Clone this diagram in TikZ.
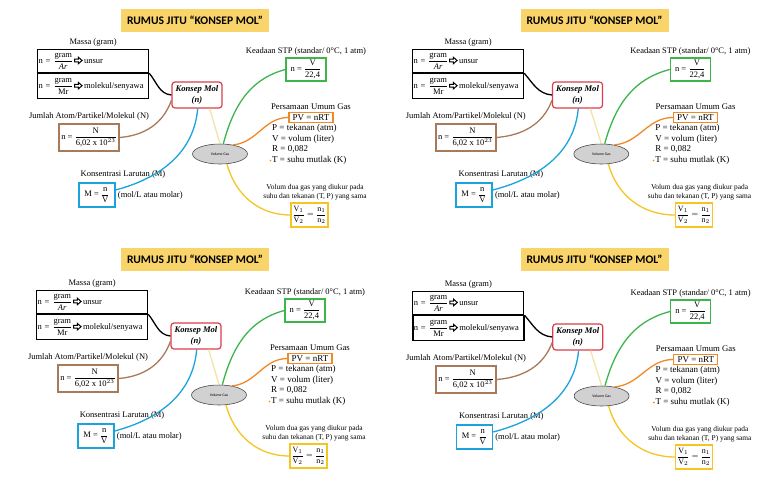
\documentclass[tikz,border=0pt]{standalone}
\usepackage{amsmath}
\usepackage{fontspec}
\setmainfont{Liberation Serif}
\newfontfamily\judulfont{Carlito}
\usetikzlibrary{positioning,shapes.geometric}
\definecolor{judulkuning}{HTML}{F9D46A}
\definecolor{merah}{HTML}{DC3C4B}
\definecolor{coklat}{HTML}{A87A5A}
\definecolor{biru}{HTML}{1BA3DC}
\definecolor{hijau}{HTML}{3DB54A}
\definecolor{oranye}{HTML}{F08A24}
\definecolor{kuning}{HTML}{F5C623}
\definecolor{krem}{HTML}{F1E4A8}
\newcommand{\pnh}{\hspace{1pt}\tikz[baseline=-2.6pt, x=1pt, y=1pt]\draw[line width=1pt, line join=miter] (0,-1.4) -- (3.6,-1.4) -- (3.6,-3.3) -- (7.4,0) -- (3.6,3.3) -- (3.6,1.4) -- (0,1.4) -- cycle;\hspace{1.5pt}}
\newcommand{\tx}[1]{\text{#1}}

\begin{document}
\begin{tikzpicture}[x=1pt, y=-1pt, node distance=1pt, every node/.style={font=\fontsize{8.5}{10}\selectfont, inner sep=1pt}]
\tikzstyle{judul}=[fill=judulkuning, minimum width=148, minimum height=23, font=\judulfont\bfseries\fontsize{11.6}{13}\selectfont]
\tikzstyle{kotak}=[draw, line width=1.3pt, align=center, inner sep=1pt]
\tikzstyle{baris}=[draw, line width=1.2pt, text width=109, align=left, minimum height=23, anchor=north west]
\tikzstyle{garis}=[line width=1.3pt]
\useasboundingbox[fill=white] (0,0) rectangle (768,488);
\foreach \dx/\dy/\sk/\jx/\jy/\id in {0/0/1/195/20/a, 373.7/0/1.0346/594.5/20/b, -1/241/1/195/259/c, 374/242/1.0346/594.5/259/d} {
\node[judul] (judul\id) at (\jx,\jy) {RUMUS JITU “KONSEP MOL”};
\begin{scope}[shift={(\dx,\dy)}, xscale=\sk]
\node[baris] (massar\id) at (37,49) {\mbox{n = $\dfrac{\tx{gram}}{\tx{\textit{Ar}}}$\pnh unsur}};
\node[baris, below=0pt of massar\id, minimum height=25] (massmr\id) {\mbox{n = $\dfrac{\tx{gram}}{\tx{Mr}}$\pnh molekul/senyawa}};
\node[above=1pt of massar\id] (lmassa\id) {Massa (gram)};
\node[kotak, draw=merah, rounded corners=3pt, line width=1.2pt, minimum width=50, minimum height=26, font=\bfseries\itshape\fontsize{8.6}{11}\selectfont] (mol\id) at (197,95) {Konsep Mol\\(n)};
\node[kotak, draw=coklat, line width=1.6pt, minimum width=60, minimum height=27] (jml\id) at (89,137.5) {n = $\dfrac{\tx{N}}{\tx{6,02 x 10}^{23}}$};
\node[above=2pt of jml\id] (ljml\id) {Jumlah Atom/Partikel/Molekul (N)};
\node[kotak, draw=biru, line width=1.5pt, minimum width=36, minimum height=24] (mkon\id) at (97,195) {M = $\dfrac{\tx{n}}{\tx{V}}$};
\node[right=1pt of mkon\id] (satuan\id) {(mol/L atau molar)};
\node (lmkon\id) at (123,174) {Konsentrasi Larutan (M)};
\node[ellipse, draw=black!70, fill=black!18, line width=0.6pt, minimum width=55, minimum height=20, font=\judulfont\fontsize{3.8}{4}\selectfont] (vgas\id) at (220,154) {Volume Gas};
\node[kotak, draw=hijau, minimum width=40, minimum height=23] (stp\id) at (306,69.5) {n = $\dfrac{\tx{V}}{\tx{22,4}}$};
\node[above=1pt of stp\id] (lstp\id) {Keadaan STP (standar/ 0°C, 1 atm)};
\node[kotak, draw=oranye, minimum width=44, minimum height=10, inner sep=0.3pt, font=\fontsize{9}{10}\selectfont] (pv\id) at (311,117.5) {PV = nRT};
\node[above=1pt of pv\id, font=\fontsize{8.7}{10}\selectfont] (lpv\id) {Persamaan Umum Gas};
\node[anchor=north west, align=left, font=\fontsize{9}{10.6}\selectfont] (ket\id) at (271,123) {P = tekanan (atm)\\V = volum (liter)\\R = 0,082\\T = suhu mutlak (K)};
\fill[oranye] (270.5,160.5) circle (0.9);
\node[align=center, font=\fontsize{7.4}{9}\selectfont] (lvol\id) at (315,192.5) {Volum dua gas yang diukur pada\\suhu dan tekanan (T, P) yang sama};
\node[kotak, draw=kuning, minimum width=37, minimum height=24, font=\fontsize{8}{9}\selectfont] (rasio\id) at (309.5,215) {$\dfrac{\tx{V}_1}{\tx{V}_2} = \dfrac{\tx{n}_1}{\tx{n}_2}$};
\draw[garis, black] (massmr\id.north east) to[out=-50, in=175] (mol\id.west);
\draw[garis, coklat] (jml\id.east) to[out=5, in=250] (mol\id.192);
\draw[garis, biru] (mol\id.-87) to[out=-95, in=15] (mkon\id.15);
\draw[garis, krem] (mol\id.-47) -- (vgas\id.north);
\draw[garis, hijau] (vgas\id.72) to[out=75, in=195] (stp\id.west);
\draw[garis, oranye] (vgas\id.35) to[out=5, in=180] (pv\id.west);
\draw[garis, kuning] (vgas\id.-55) to[out=-75, in=180] (rasio\id.west);
\end{scope}
}
\end{tikzpicture}
\end{document}
